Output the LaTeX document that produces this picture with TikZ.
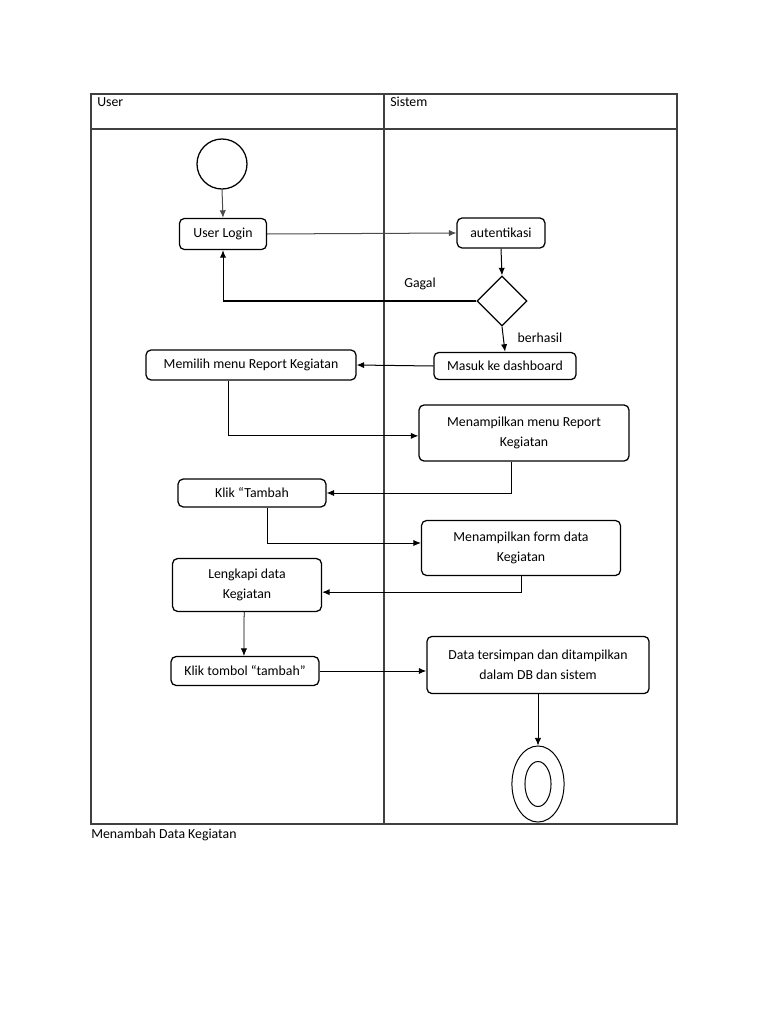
\documentclass[tikz,border=0pt]{standalone}
\usepackage{fontspec}
\setmainfont{Carlito}
\usetikzlibrary{arrows.meta,positioning,shapes.geometric}

\begin{document}
\begin{tikzpicture}[
    x=0.28mm, y=-0.28mm,
    act/.style={
        rectangle,
        rounded corners=4pt,
        draw=black,
        line width=1pt,
        align=center,
        inner sep=0pt,
        font=\fontsize{11}{16}\selectfont
    },
    flow/.style={-{Latex[length=6pt,width=5pt]}, line width=0.8pt},
    lane/.style={draw=black!75, line width=1pt},
    lbl/.style={font=\fontsize{11}{13}\selectfont, inner sep=0pt}
]

    % Page size of the reference
    \useasboundingbox (0,0) rectangle (768,1024);

    % Swimlanes
    \draw[lane] (91,94) rectangle (677,824);
    \draw[lane] (91,129) -- (677,129);
    \draw[lane] (384,94) -- (384,824);
    \node[lbl, anchor=base west] (laneuser) at (97,107) {User};
    \node[lbl, anchor=base west] (lanesistem) at (390,107) {Sistem};

    % Start node
    \node[circle, draw, line width=1pt, minimum size=14mm, inner sep=0pt] (start) at (222,164) {};

    % User Login and autentikasi
    \node[act, minimum width=24.4mm, minimum height=8.7mm] (login) at (223,234) {User Login};
    \node[act, minimum width=24.6mm, minimum height=8.4mm] (auth) at (501,233) {autentikasi};

    % Decision
    \node[diamond, draw, line width=1pt, minimum width=14mm, minimum height=14mm, inner sep=0pt] (cek) at (502,301) {};

    % Dashboard and menu
    \node[act, minimum width=39.8mm, minimum height=7.6mm] (dashboard) at (505,366) {Masuk ke dashboard};
    \node[act, minimum width=58.8mm, minimum height=8.4mm] (memilih) at (251,365) {Memilih menu Report Kegiatan};
    \node[act, minimum width=58.8mm, minimum height=15.7mm] (menureport) at (524,433) {Menampilkan menu Report\\Kegiatan};

    % Tambah data
    \node[act, minimum width=41.4mm, minimum height=7.8mm] (tambah) at (252,493) {Klik “Tambah};
    \node[act, minimum width=55.7mm, minimum height=15.4mm] (form) at (521,548) {Menampilkan form data\\Kegiatan};
    \node[act, minimum width=41.7mm, minimum height=14.8mm] (lengkapi) at (247,585) {Lengkapi data\\Kegiatan};
    \node[act, minimum width=41.4mm, minimum height=8.1mm] (tombol) at (245,671) {Klik tombol “tambah”};
    \node[act, minimum width=62.2mm, minimum height=16mm] (simpan) at (538,665) {Data tersimpan dan ditampilkan\\dalam DB dan sistem};

    % End node
    \node[ellipse, draw, line width=0.8pt, minimum width=14.6mm, minimum height=21.3mm, inner sep=0pt] (selesai) at (538,784) {};
    \node[ellipse, draw, line width=0.8pt, minimum width=7.3mm, minimum height=12.6mm, inner sep=0pt] (selesaiin) at (538,784) {};

    % Connectors
    \draw[flow, draw=black!70] (start.south) -- (login.north);
    \draw[flow, draw=black!70] (login.east) -- (auth.west);
    \draw[flow] (auth.south) -- (cek.north);
    \draw[flow] (cek.west) -| (login.south);
    \node[lbl] (gagal) at (420,284) {Gagal};
    \draw[flow] (cek.south) -- (dashboard.north);
    \node[lbl] (berhasil) at (540,338) {berhasil};
    \draw[flow] (dashboard.west) -- (memilih.east);
    \draw[flow] ([xshift=-6.4mm]memilih.south) |- ([yshift=-0.8mm]menureport.west);
    \draw[flow] ([xshift=-3.6mm]menureport.south) |- (tambah.east);
    \draw[flow] ([xshift=4.2mm]tambah.south) |- ([yshift=1.4mm]form.west);
    \draw[flow] (form.south) |- ([yshift=-2mm]lengkapi.east);
    \draw[flow, line width=0.6pt] ([xshift=-0.8mm]lengkapi.south) -- ([xshift=-0.3mm]tombol.north);
    \draw[flow] (tombol.east) -- (tombol.east -| simpan.west);
    \draw[flow, line width=0.6pt] (simpan.south) -- (selesai.north);

    % Caption
    \node[lbl, anchor=west] (caption) at (91,835) {Menambah Data Kegiatan};

\end{tikzpicture}
\end{document}
